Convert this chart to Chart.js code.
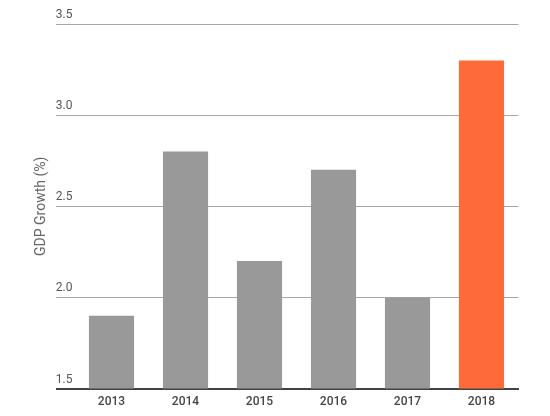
<!DOCTYPE html>
<html>
<head>
<meta charset="utf-8">
<script src="https://cdn.jsdelivr.net/npm/chart.js@4.4.1/dist/chart.umd.min.js"></script>
<style>
  html, body { margin: 0; padding: 0; background: #fff; }
  #wrap { width: 550px; height: 416px; }
</style>
</head>
<body>
<div id="wrap"><canvas id="myChart"></canvas></div>
<script>
// GDP growth by year
const years = ['2013', '2014', '2015', '2016', '2017', '2018'];
const growth = [1.9, 2.8, 2.2, 2.7, 2.0, 3.3];
const barColors = ['#999999', '#999999', '#999999', '#999999', '#999999', '#ff6a39'];
const yTicks = [1.5, 2.0, 2.5, 3.0, 3.5];

Chart.defaults.font.family = 'Roboto, "Noto Sans", sans-serif';

var context = document.getElementById('myChart').getContext('2d');

var myChart = new Chart(context, {
  type: 'bar',
  data: {
    labels: years,
    datasets: [{
      data: growth,
      backgroundColor: barColors,
      borderWidth: 0,
      barPercentage: 0.61,
      categoryPercentage: 1
    }]
  },
  options: {
    responsive: true,
    maintainAspectRatio: false,
    animation: false,
    layout: { padding: { left: 33.5, right: 31.5, top: 24, bottom: 1 } },
    plugins: {
      legend: { display: false },
      tooltip: { enabled: false }
    },
    scales: {
      x: {
        z: 1,
        offset: true,
        grid: { display: false, drawTicks: false },
        border: { display: true, color: '#424242', width: 2 },
        ticks: {
          color: '#444444',
          padding: 6,
          font: { size: 12, weight: 500 }
        }
      },
      y: {
        min: yTicks[0],
        max: yTicks[yTicks.length - 1],
        afterFit: (scale) => { scale.width = 41; },
        afterBuildTicks: (scale) => {
          scale.ticks = yTicks.map(v => ({ value: v }));
        },
        border: { display: false },
        grid: {
          // the 1.5 line doubles as the base line, so it is dark
          color: (ctx) => ctx.tick && ctx.tick.value === yTicks[0] ? '#424242' : '#a8a8a8',
          lineWidth: (ctx) => ctx.tick && ctx.tick.value === yTicks[0] ? 2 : 1,
          drawTicks: true,
          tickLength: 18.5
        },
        ticks: {
          color: '#555555',
          padding: -16.5,
          labelOffset: -9,
          font: { size: 12 },
          callback: (v) => Number(v).toFixed(1)
        },
        title: {
          display: true,
          text: 'GDP Growth (%)',
          color: '#666666',
          padding: 0,
          font: { size: 14 }
        }
      }
    }
  }
});
</script>
</body>
</html>
